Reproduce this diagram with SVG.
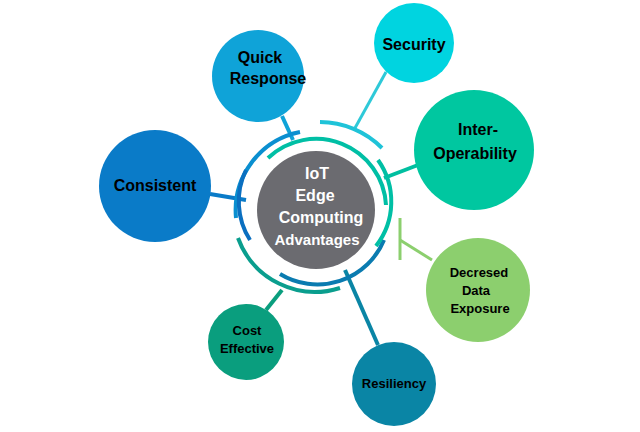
<svg xmlns="http://www.w3.org/2000/svg" width="640" height="432" viewBox="0 0 640 432">
<style>
.t{font-family:"Liberation Sans",Arial,sans-serif;font-weight:bold;text-anchor:middle;fill:#000}
.w{fill:#fff}
.a{fill:none;stroke-width:4}
</style>
<rect width="640" height="432" fill="#fff"/>
<g id="connectors" fill="none" stroke-width="4">
<line x1="282" y1="116" x2="293" y2="140" stroke="#0fa3d8"/>
<line x1="386" y1="72" x2="355" y2="128" stroke="#2ec9d8" stroke-width="3"/>
<line x1="418" y1="165" x2="384" y2="178" stroke="#00bfa0"/>
<line x1="210" y1="194" x2="246" y2="200" stroke="#0a7bc8"/>
<line x1="400" y1="218" x2="400" y2="260" stroke="#8ccf6e" stroke-width="3"/>
<line x1="400" y1="240" x2="432" y2="260" stroke="#8ccf6e" stroke-width="3"/>
<line x1="282" y1="290" x2="266" y2="310" stroke="#0a9e7e"/>
<line x1="345" y1="270" x2="378" y2="345" stroke="#0a85a5"/>
<path class="a" d="M236 218 A80 80 0 0 1 300 132" stroke="#0a8fd0"/>
<path class="a" d="M268 158 A70 70 0 0 1 386 205" stroke="#00bfa5"/>
<path class="a" d="M320 122 A88 88 0 0 1 382 148" stroke="#1fc3d8"/>
<path class="a" d="M246 170 A72 72 0 0 0 250 240" stroke="#0a6fc0" stroke-width="5"/>
<path class="a" d="M384 240 A72 72 0 0 1 280 274" stroke="#0a7bb0"/>
<path class="a" d="M238 238 A82 82 0 0 0 340 288" stroke="#0a9e8e"/>
<path class="a" d="M378 160 A72 72 0 0 1 376 246" stroke="#00bfa5" stroke-width="3"/>
</g>
<g id="center"><circle cx="316" cy="210" r="59" fill="#6b6b70"/>
<text class="t w" font-size="16"><tspan x="317" y="179">IoT</tspan><tspan x="315" y="201">Edge</tspan><tspan x="321" y="223">Computing</tspan><tspan x="317" y="245" font-size="15">Advantages</tspan></text></g>
<g id="quick"><circle cx="258" cy="76" r="46" fill="#0fa3d8"/><text class="t" font-size="16"><tspan x="260" y="63">Quick</tspan><tspan x="268" y="84">Response</tspan></text></g>
<g id="security"><circle cx="414" cy="43" r="40" fill="#00d4e0"/><text class="t" x="414" y="50" font-size="16">Security</text></g>
<g id="interop"><circle cx="474" cy="150" r="60" fill="#00c7a0"/><text class="t" font-size="16"><tspan x="478" y="135">Inter-</tspan><tspan x="475" y="159">Operability</tspan></text></g>
<g id="consistent"><circle cx="155" cy="186" r="56" fill="#0a7bc8"/><text class="t" x="155" y="191" font-size="16">Consistent</text></g>
<g id="exposure"><circle cx="478" cy="290" r="52" fill="#8ccf6e"/><text class="t" font-size="13"><tspan x="479" y="277">Decresed</tspan><tspan x="476" y="295">Data</tspan><tspan x="480" y="313">Exposure</tspan></text></g>
<g id="cost"><circle cx="246" cy="342" r="38" fill="#0a9e7e"/><text class="t" font-size="13"><tspan x="247" y="335">Cost</tspan><tspan x="247" y="353">Effective</tspan></text></g>
<g id="resiliency"><circle cx="394" cy="384" r="42" fill="#0a85a5"/><text class="t" x="394" y="388" font-size="13">Resiliency</text></g>
</svg>
